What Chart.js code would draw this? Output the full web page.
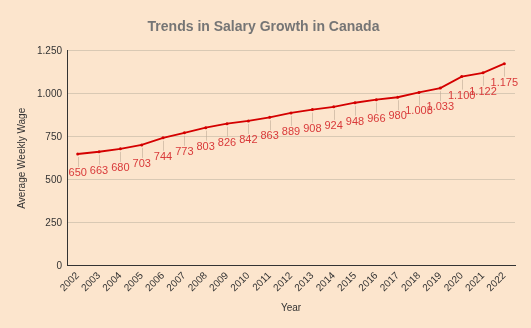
<!DOCTYPE html>
<html><head><meta charset="utf-8">
<script src="https://cdn.jsdelivr.net/npm/chart.js@4"></script>
<style>html,body{margin:0;padding:0;background:#fce5cd;}#wrap{width:531px;height:328px;}</style>
</head><body><div id="wrap"><canvas id="c" width="531" height="328"></canvas></div>
<script>
const years = ['2002','2003','2004','2005','2006','2007','2008','2009','2010','2011','2012','2013','2014','2015','2016','2017','2018','2019','2020','2021','2022'];
const wages = [650,663,680,703,744,773,803,826,842,863,889,908,924,948,966,980,1008,1033,1100,1122,1175];
const yTicks = [0,250,500,750,1000,1250];

const fmt = v => String(v).replace(/\B(?=(\d{3})+(?!\d))/g, '.');

const labelPlugin = {
  id: 'pointLabels',
  afterDatasetsDraw(chart) {
    const ctx = chart.ctx;
    const meta = chart.getDatasetMeta(0);
    ctx.save();
    meta.data.forEach((pt, i) => {
      ctx.strokeStyle = 'rgba(190,170,150,0.6)';
      ctx.lineWidth = 1;
      ctx.beginPath();
      ctx.moveTo(Math.round(pt.x)+0.5, pt.y + 3);
      ctx.lineTo(Math.round(pt.x)+0.5, pt.y + 13);
      ctx.stroke();
      ctx.fillStyle = '#d93a3a';
      ctx.font = '11px "Liberation Sans", Arial, sans-serif';
      ctx.textAlign = 'center';
      ctx.textBaseline = 'middle';
      ctx.fillText(fmt(wages[i]), pt.x, pt.y + 19);
    });
    ctx.restore();
  }
};

const bgPlugin = {
  id: 'bg',
  beforeDraw(chart) {
    const c = chart.ctx;
    c.save(); c.fillStyle = '#fce5cd'; c.fillRect(0,0,chart.width,chart.height); c.restore();
  }
};

new Chart(document.getElementById('c'), {
  type: 'line',
  data: {
    labels: years,
    datasets: [{
      data: wages,
      borderColor: '#d40000',
      backgroundColor: '#d40000',
      borderWidth: 1.8,
      pointRadius: 1.5,
      pointBorderWidth: 0,
      pointHoverRadius: 1.5,
      tension: 0
    }]
  },
  options: {
    responsive: false,
    animation: false,
    devicePixelRatio: 1,
    layout: { padding: { left: 12, right: 16, top: 4, bottom: 10 } },
    plugins: {
      legend: { display: false },
      tooltip: { enabled: false },
      title: {
        display: true,
        text: 'Trends in Salary Growth in Canada',
        color: '#757575',
        font: { family: '"Liberation Sans", Arial, sans-serif', size: 14, weight: 'bold' },
        padding: { top: 15, bottom: 15 }
      }
    },
    scales: {
      x: {
        offset: true,
        grid: { display: false, drawTicks: false },
        border: { display: true, color: '#333333', width: 1 },
        ticks: {
          color: '#333333',
          font: { family: '"Liberation Sans", Arial, sans-serif', size: 10 },
          maxRotation: 45, minRotation: 45,
          autoSkip: false,
          padding: 4
        },
        title: {
          display: true, text: 'Year', color: '#333333',
          font: { family: '"Liberation Sans", Arial, sans-serif', size: 10 },
          padding: { top: 4 }
        }
      },
      y: {
        min: 0, max: 1250,
        afterBuildTicks: axis => { axis.ticks = yTicks.map(v => ({ value: v })); },
        grid: { color: '#d9c9b4', drawTicks: false, lineWidth: 1 },
        border: { display: true, color: '#333333', width: 1 },
        ticks: {
          color: '#333333',
          font: { family: '"Liberation Sans", Arial, sans-serif', size: 10 },
          padding: 5,
          callback: v => fmt(v)
        },
        title: {
          display: true, text: 'Average Weekly Wage', color: '#333333',
          font: { family: '"Liberation Sans", Arial, sans-serif', size: 10 },
          padding: { bottom: 4 }
        }
      }
    }
  },
  plugins: [bgPlugin, labelPlugin]
});
</script></body></html>
